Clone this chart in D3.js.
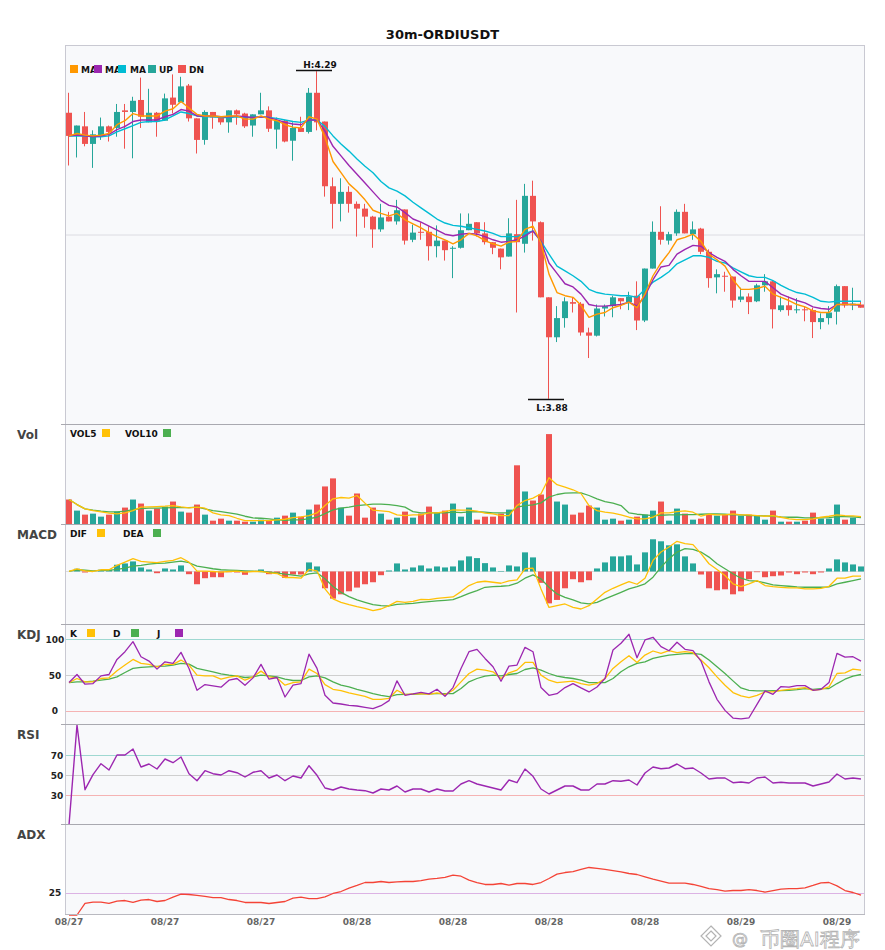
<!DOCTYPE html>
<html>
<head>
<meta charset="utf-8">
<script src="https://cdn.jsdelivr.net/npm/d3@7/dist/d3.min.js"></script>
<style>
  body { margin: 0; background: #fff; }
  svg text { font-family: "DejaVu Sans", sans-serif; }
</style>
</head>
<body>
<script>
// ---- data (30m candles, 100 bars) ----
var openPrices = [
  4.238,4.209,4.221,4.199,4.208,4.221,4.219,4.241,4.239,4.254,
  4.226,4.238,4.228,4.257,4.251,4.272,4.231,4.204,4.239,4.232,
  4.226,4.241,4.237,4.222,4.236,4.241,4.217,4.228,4.203,4.219,
  4.214,4.263,4.227,4.146,4.124,4.139,4.124,4.118,4.108,4.092,
  4.108,4.102,4.117,4.079,4.089,4.089,4.071,4.078,4.068,4.069,
  4.091,4.101,4.087,4.076,4.068,4.058,4.086,4.074,4.134,4.101,
  4.007,3.957,3.981,4.001,3.999,3.963,3.959,3.993,3.996,4.006,
  4.001,4.009,3.978,4.043,4.089,4.078,4.087,4.114,4.086,4.093,
  4.064,4.032,4.034,4.033,4.004,4.008,4.002,4.022,4.027,3.991,
  3.997,3.991,3.992,3.991,3.976,3.981,3.989,4.021,3.997,3.998
];
var closePrices = [
  4.209,4.222,4.199,4.211,4.221,4.214,4.239,4.239,4.253,4.233,
  4.238,4.227,4.256,4.248,4.271,4.231,4.204,4.239,4.232,4.226,
  4.241,4.236,4.221,4.236,4.241,4.218,4.229,4.202,4.219,4.214,
  4.263,4.226,4.146,4.124,4.139,4.124,4.118,4.108,4.092,4.107,
  4.102,4.116,4.078,4.088,4.088,4.071,4.078,4.066,4.069,4.091,
  4.099,4.087,4.076,4.069,4.057,4.087,4.076,4.134,4.102,4.007,
  3.957,3.981,4.002,3.999,3.963,3.959,3.993,3.996,4.007,4.002,
  4.008,3.978,4.043,4.089,4.079,4.086,4.114,4.087,4.092,4.064,
  4.031,4.036,4.033,4.003,4.008,4.001,4.022,4.027,3.992,3.997,
  3.991,3.992,3.991,3.976,3.981,3.988,4.021,3.997,3.999,3.994
];
var highPrices = [
  4.263,4.222,4.239,4.216,4.232,4.222,4.249,4.249,4.258,4.282,
  4.268,4.239,4.262,4.286,4.283,4.274,4.231,4.241,4.239,4.232,
  4.241,4.242,4.238,4.236,4.263,4.246,4.232,4.229,4.226,4.233,
  4.269,4.290,4.227,4.157,4.156,4.146,4.127,4.124,4.109,4.124,
  4.114,4.129,4.117,4.098,4.101,4.096,4.097,4.078,4.071,4.112,
  4.112,4.101,4.101,4.076,4.068,4.106,4.129,4.149,4.153,4.102,
  4.007,3.996,4.007,4.007,4.001,3.969,3.998,3.998,4.009,4.006,
  4.014,4.027,4.043,4.102,4.121,4.089,4.117,4.124,4.102,4.094,
  4.067,4.042,4.039,4.033,4.019,4.012,4.024,4.036,4.028,4.008,
  4.008,4.006,3.996,3.994,3.987,3.996,4.023,4.021,4.019,4.002
];
var lowPrices = [
  4.172,4.182,4.196,4.169,4.204,4.202,4.208,4.193,4.181,4.219,
  4.226,4.208,4.228,4.237,4.251,4.227,4.187,4.198,4.218,4.223,
  4.213,4.223,4.219,4.208,4.236,4.214,4.193,4.201,4.178,4.214,
  4.212,4.216,4.133,4.093,4.102,4.113,4.083,4.094,4.069,4.089,
  4.102,4.098,4.073,4.076,4.079,4.053,4.057,4.053,4.031,4.068,
  4.091,4.083,4.073,4.061,4.042,4.058,3.988,4.063,4.078,4.007,
  3.880,3.951,3.969,3.988,3.959,3.931,3.958,3.983,3.982,3.992,
  3.991,3.966,3.976,4.043,4.073,4.073,4.084,4.087,4.079,4.061,
  4.019,4.012,4.014,3.994,4.001,3.986,4.001,4.014,3.968,3.989,
  3.984,3.987,3.977,3.956,3.967,3.973,3.973,3.994,3.991,3.994
];
var ma5 = [
  4.209,4.212,4.210,4.209,4.210,4.212,4.223,4.228,4.237,4.234,
  4.234,4.234,4.240,4.243,4.252,4.244,4.236,4.234,4.234,4.233,
  4.234,4.234,4.230,4.230,4.234,4.230,4.228,4.223,4.220,4.219,
  4.233,4.230,4.207,4.177,4.163,4.149,4.140,4.129,4.116,4.112,
  4.109,4.112,4.104,4.099,4.094,4.088,4.083,4.079,4.074,4.079,
  4.087,4.084,4.078,4.074,4.071,4.076,4.077,4.092,4.096,4.075,
  4.036,4.013,4.009,4.007,3.997,3.982,3.986,3.988,3.994,3.997,
  4.001,3.994,4.011,4.034,4.050,4.063,4.079,4.082,4.086,4.077,
  4.061,4.054,4.046,4.029,4.017,4.017,4.018,4.021,4.011,4.007,
  4.003,3.998,3.995,3.990,3.988,3.988,3.998,3.998,3.998,3.998
];
var ma10 = [
  4.209,4.210,4.209,4.208,4.209,4.211,4.217,4.221,4.227,4.229,
  4.229,4.229,4.233,4.236,4.242,4.240,4.234,4.234,4.234,4.233,
  4.233,4.234,4.233,4.232,4.233,4.232,4.229,4.226,4.224,4.223,
  4.229,4.229,4.215,4.196,4.184,4.172,4.161,4.150,4.139,4.128,
  4.122,4.120,4.113,4.105,4.101,4.096,4.091,4.086,4.084,4.086,
  4.087,4.086,4.083,4.079,4.076,4.077,4.079,4.084,4.090,4.077,
  4.050,4.037,4.024,4.020,4.011,3.998,3.996,3.996,3.997,3.998,
  4.001,3.996,4.009,4.029,4.045,4.047,4.061,4.067,4.072,4.071,
  4.063,4.057,4.052,4.042,4.034,4.027,4.027,4.027,4.019,4.011,
  4.007,4.003,4.000,3.995,3.993,3.992,3.998,3.998,3.998,3.997
];
var ma20 = [
  4.209,4.209,4.209,4.208,4.208,4.209,4.214,4.218,4.222,4.226,
  4.227,4.227,4.229,4.234,4.239,4.237,4.234,4.233,4.233,4.232,
  4.232,4.233,4.232,4.232,4.233,4.232,4.231,4.229,4.227,4.226,
  4.229,4.229,4.221,4.209,4.199,4.190,4.180,4.171,4.163,4.152,
  4.144,4.140,4.134,4.126,4.119,4.112,4.105,4.100,4.097,4.096,
  4.094,4.092,4.090,4.087,4.083,4.083,4.083,4.087,4.090,4.077,
  4.061,4.046,4.040,4.034,4.027,4.017,4.013,4.011,4.010,4.009,
  4.009,4.007,4.017,4.026,4.032,4.039,4.049,4.054,4.059,4.059,
  4.057,4.052,4.050,4.044,4.039,4.034,4.032,4.032,4.028,4.022,
  4.017,4.013,4.011,4.007,4.002,4.001,4.002,4.002,4.002,4.002
];
var volumes = [
  25.3,14.3,10.3,11.3,8.3,10.3,13.3,17.3,25.3,21.3,
  14.3,16.3,18.3,23.3,13.3,12.3,20.3,10.3,4.3,6.3,
  4.3,4.3,3.3,3.3,5.3,4.3,7.3,9.3,12.3,8.3,
  15.3,20.3,38.3,46.3,17.3,9.3,31.3,7.3,17.3,11.3,
  5.3,7.3,13.3,7.3,11.3,18.3,12.3,14.3,21.3,8.3,
  17.3,5.3,8.3,8.3,11.3,15.3,59.3,33.3,24.3,30.3,
  90.3,23.3,20.3,10.3,12.3,19.3,17.3,5.3,6.3,4.3,
  5.3,8.3,10.3,14.3,23.3,4.3,16.3,11.3,5.3,6.3,
  10.3,9.3,10.3,14.3,9.3,10.3,9.3,5.3,14.3,3.3,
  3.3,3.3,4.3,12.3,6.3,6.3,20.3,5.3,7.3,0.7
];
var vol5 = [
  25.3,20.3,16,14.3,13,11.7,11,12,14.3,17.7,
  18,18.3,18.7,19.3,18,17,17.7,16.7,12,10,
  9.3,6.7,4.3,4.3,4.3,4.3,5,5.7,7.3,8,
  9.3,12,19.3,26,27.3,26.7,29.3,21.7,14.7,14,
  13.3,10,9.3,10,10,12,12,13.3,15,14.7,
  14.7,13.7,11.7,11,9.3,9.3,19.3,24.3,26.7,31,
  47,40,37.7,35,31.3,19.3,14.3,12.7,11.7,10,
  7.7,6,6,7.7,12,12,13.3,14,12.7,8.7,
  10.7,10,10,11,10,10,9.3,8.7,9.3,7.7,
  6,5.3,5.3,6,7.7,8.7,10,9.3,9,8.3
];
var vol10 = [
  25.3,20.3,16,14.7,13.7,13,13,13.7,15.3,16.3,
  16.7,16.7,17,17.3,17.3,17.3,17.7,16,14.3,13.3,
  12,10.7,8.7,7,6.7,6,5,4.7,5,5,
  6.3,7.7,11.3,15,16.7,17.7,19.3,20,20.7,20.7,
  20.3,19.3,17.7,13.3,12,12,12,12,12.7,12.3,
  13,13.3,12.7,12,12,12,17.7,19.3,20,22,
  27.7,30.3,31.7,32,32,29.3,26,23.3,21.7,19.3,
  12,10.7,10,9.3,9.7,10,10,10.3,10.3,10.7,
  11,11,10.7,10,10,9.3,9.3,9,8.7,8,
  7.7,7.7,7,7,7,7.3,8.3,8.3,8,7.3
];
// MACD values in units of 0.001
var difValues = [
  0,2.7,0.7,0,1.7,1.7,6,9.3,12.7,10,
  9.3,8.7,10,11,13.7,9.3,0.3,0.3,0,-0.7,
  0,0.3,-0.7,0,0,-1.3,-2,-6,-6,-6.7,
  2,0.7,-17.3,-27.3,-30.7,-33,-35,-36.7,-39,-37.3,
  -34,-29.7,-30.7,-29.7,-27.7,-28,-26.7,-26,-25.3,-20,
  -14,-10.7,-9.7,-10.7,-11.7,-9.3,-8.3,2.7,3.3,-17.3,
  -35.7,-34,-32.3,-35.7,-37.3,-34,-27.3,-20.7,-16.7,-13.3,
  -10,-12.7,-6.7,11,19.3,24.3,30,27.7,26.7,17.7,
  7.7,2,-4,-12.3,-15,-12.3,-9,-14,-15,-15.7,
  -16.3,-16.3,-17.3,-17.3,-16.7,-14.7,-6.7,-6.7,-4.7,-4.7
];
var deaValues = [
  0,1.7,1.3,0.7,1,1,2,3.3,5.3,6,
  7.3,8,8.3,9.3,10.3,8.7,5.3,4,2.7,1.7,
  1.3,1,0.7,0.3,0,-0.7,-1.3,-2.7,-3.7,-4.7,
  -2.3,-1.3,-7.3,-15,-20.7,-25,-28.3,-30.7,-33,-34,
  -34.3,-32.7,-32.3,-31.7,-30.7,-30,-29.3,-28.7,-28,-25,
  -21.7,-19,-15.7,-15,-14.7,-14,-11.7,-6.7,-3.3,-7.3,
  -15.7,-22.3,-25.7,-28.3,-31.3,-32.3,-30.7,-27.3,-24,-20.7,
  -17.3,-15,-12.3,-5.7,4.3,12.7,19.3,22.7,22,19.3,
  14.3,7.7,2.7,-2.3,-6.7,-9,-9.7,-11.3,-13.3,-14,
  -14.7,-15.3,-15.7,-15.7,-15.7,-15.3,-12.3,-10.7,-9,-7.3
];
var macdHist = [
  0,2.7,-1,0,1.7,1.7,6.7,8,10,4,
  2,-1.7,3,2,6,-2.7,-12.7,-6.7,-5.7,-5.7,
  -0.7,-1,-3.3,-0.3,2,-2.7,-2,-6.3,-3,-3,
  9,5,-16.7,-27,-22.7,-19.7,-16,-12.7,-10.7,-3.7,
  1,8,2,4,6,3,5,4,5,11,
  15,13.3,8.3,4,0.5,6,5,19,14,-11.3,
  -31.7,-28.3,-16.7,-7.7,-10.7,-8.7,3,9,15,15,
  16,7,19,32,30,26,27,15,8,-3,
  -16.7,-18.7,-17.7,-22.7,-19.7,-7.7,-0.7,-5.7,-4.7,-4,
  -1,-2.7,-1,-2.7,-1,3,12,9,7,5
];
var kValues = [
  39.4,45.1,40.4,40.4,45.1,46.0,55.9,63.9,71.8,66.2,
  64.8,61.5,64.8,64.8,70.9,63.9,49.8,48.8,48.8,44.1,
  46.9,48.8,42.7,47.4,55.4,47.4,46.0,35.7,39.4,40.4,
  58.2,52.1,36.6,30.0,28.2,24.9,22.5,20.2,16.0,16.0,
  17.4,28.6,22.5,23.5,23.9,23.0,24.9,22.5,28.6,40.4,
  52.1,58.2,56.8,54.5,45.1,53.1,56.8,67.6,67.6,49.8,
  42.7,39.4,40.4,41.3,38.0,35.7,38.0,45.1,59.2,68.5,
  77.0,67.6,77.9,83.6,80.3,84.0,81.2,82.6,81.2,70.9,
  60.1,47.4,35.7,25.4,20.7,18.3,21.6,26.3,26.3,28.6,
  30.0,31.0,32.4,28.6,30.0,33.3,52.1,53.1,58.2,56.8
];
var dValues = [
  39.4,40.4,40.4,41.3,42.7,44.1,47.4,53.5,59.2,60.6,
  61.5,62.0,62.4,63.9,66.2,65.3,59.2,56.8,54.5,51.6,
  49.8,48.4,46.5,47.4,49.8,48.8,47.4,44.1,42.3,42.3,
  47.4,48.8,46.0,40.4,35.7,33.3,30.0,27.2,23.9,21.6,
  19.7,22.5,23.0,23.0,23.5,23.5,23.9,23.9,23.9,31.0,
  40.4,45.1,48.4,49.8,48.8,50.7,52.1,57.7,60.1,56.8,
  52.1,48.4,46.5,45.1,42.7,39.4,39.4,39.4,45.1,54.5,
  61.5,66.2,68.5,73.2,75.6,77.9,78.9,79.8,80.3,78.9,
  70.9,61.5,52.1,41.8,31.9,28.6,27.7,27.7,28.2,28.2,
  28.6,29.6,31.0,30.0,31.0,31.0,38.0,44.1,48.4,50.7
];
var jValues = [
  39.4,50.7,37.1,38.0,48.8,50.7,71.8,82.6,96.7,75.6,
  69.5,58.2,68.5,66.2,81.7,59.2,28.6,36.6,34.7,32.9,
  42.7,45.1,35.7,46.0,64.8,44.1,46.5,19.2,35.7,38.0,
  79.3,59.2,21.6,10.8,9.4,7.5,6.6,4.7,2.8,7.0,
  14.1,41.8,21.6,23.5,25.8,23.5,30.0,20.2,32.4,59.2,
  82.6,85.9,73.2,61.5,41.3,62.4,63.9,88.7,82.6,32.4,
  21.6,23.9,32.4,38.0,31.9,26.3,33.3,45.1,85.0,94.4,
  107.0,74.2,99.1,102.8,89.7,84.0,95.8,85.9,84.0,69.5,
  40.4,16.0,0.5,-10.3,-11.3,-9.9,8.9,27.7,23.0,33.8,
  32.9,35.2,35.2,28.6,30.0,39.4,80.3,75.1,75.6,69.5
];
var rsiValues = [
  0,100,35.3,50.3,61.3,55,70,70,76,58,
  61,56,66,62.3,68,51.3,44.3,54.3,51.3,50,
  54.3,52.3,48,52.7,54.3,47,50,44.3,49,47,
  59.3,49.7,37,35,38,36,35,34.3,32,36,
  35,39,33,36,36,33,36,34,34,41,
  44.3,41,39,37,35,45,42.3,56,48.7,36,
  31,35,39,39,35,35,41,41,44.3,43.7,
  45,40,52,58,56.3,57,61,56.3,57,52,
  46,47,47,42.3,43,42,47,48,42,42.7,
  42,42,42,39,41,43,51,46,47,46
];
var adxValues = [
  0,0,12.8,14.3,14.3,12.8,15.4,16.1,13.9,16.5,
  17.2,15,16.1,19.8,23.1,22.8,21.7,20.6,19.4,19.4,
  17.2,16.1,13.9,13.9,13.9,12.8,13.9,15,18.7,19.8,
  18.3,18.3,20.2,23.9,26.1,29.8,32.8,36.1,36.1,37.2,
  36.1,36.9,37.2,37.2,38.3,39.8,40.6,41.7,44.3,43.1,
  38.7,36.1,33.9,33.9,35,33.1,35,35,33.9,36.1,
  40.6,45.4,47.2,48.3,50.6,52.8,51.7,50.6,49.4,48,
  46.1,45,42.4,39.8,37.6,35.4,35.4,35.4,33.9,31.7,
  29.4,28.3,26.5,27.2,27.2,28.3,27.2,25.4,27.2,28.7,
  29.4,29.4,30.2,32.8,35.7,36.1,32.4,27.2,25,22
];
// date labels, one every 12 bars
var tickLabels = ['08/27','08/27','08/27','08/28','08/28','08/28','08/28','08/29','08/29'];
var tickStep = 12;
var kdjLevels = [100, 50, 0];
var rsiLevels = [70, 50, 30];
var adxLevels = [25];

// ---- layout ----
var svgWidth = 885, svgHeight = 950;
var plotLeft = 65, plotRight = 865;
var panels = {
  main: { top: 45, bottom: 425 },
  vol:  { top: 425, bottom: 525, label: 'Vol' },
  macd: { top: 525, bottom: 625, label: 'MACD' },
  kdj:  { top: 625, bottom: 725, label: 'KDJ' },
  rsi:  { top: 725, bottom: 825, label: 'RSI' },
  adx:  { top: 825, bottom: 915, label: 'ADX' }
};
var UP = '#26a69a', DN = '#ef5350';
var n = closePrices.length;
var bars = d3.range(n).map(function (i) {
  return { i: i, o: openPrices[i], c: closePrices[i], h: highPrices[i], l: lowPrices[i], v: volumes[i] };
});

var svg = d3.select('body').append('svg')
  .attr('width', svgWidth)
  .attr('height', svgHeight);

// plot background
svg.append('rect')
  .attr('x', plotLeft).attr('y', panels.main.top)
  .attr('width', plotRight - plotLeft).attr('height', panels.adx.bottom - panels.main.top)
  .attr('fill', '#f8f9fb');

// ---- scales ----
var x = d3.scaleBand().domain(d3.range(n)).range([plotLeft, plotRight])
  .paddingInner(0.25).paddingOuter(0.125);
var cx = function (i) { return x(i) + x.bandwidth() / 2; };

var hi = d3.max(highPrices), lo = d3.min(lowPrices);
var pad = (hi - lo) * 0.08;
var yPrice = d3.scaleLinear().domain([lo - pad, hi + pad]).range([panels.main.bottom, panels.main.top]);
var yVol = d3.scaleLinear().domain([0, d3.max(volumes) * 1.1]).range([panels.vol.bottom, panels.vol.top]);
var mLo = d3.min(difValues.concat(deaValues, macdHist)), mHi = d3.max(difValues.concat(deaValues, macdHist));
var mPad = (mHi - mLo) * 0.2;
var yMacd = d3.scaleLinear().domain([mLo - mPad, mHi + mPad]).range([panels.macd.bottom, panels.macd.top]);
var yKdj = d3.scaleLinear().domain([-20, 120]).range([panels.kdj.bottom, panels.kdj.top]);
var yRsi = d3.scaleLinear().domain([0, 100]).range([panels.rsi.bottom, panels.rsi.top]);
var yAdx = d3.scaleLinear().domain([0, 100]).range([panels.adx.bottom, panels.adx.top]);

// ---- grid lines ----
function hline(y, color) {
  svg.append('line')
    .attr('x1', plotLeft).attr('x2', plotRight)
    .attr('y1', y).attr('y2', y)
    .attr('stroke', color).attr('stroke-width', 1);
}
hline((panels.main.top + panels.main.bottom) / 2, '#dcdce2');
hline(Math.round(yMacd(0)) + 0.5, '#dddddd');
var levelColor = { 100: '#9fd8d1', 70: '#9fd8d1', 50: '#cfcfcf', 0: '#f5b3b3', 30: '#f5b3b3', 25: '#dcb3e4' };
kdjLevels.forEach(function (v) { hline(Math.round(yKdj(v)) + 0.5, levelColor[v]); });
rsiLevels.forEach(function (v) { hline(Math.round(yRsi(v)) + 0.5, levelColor[v]); });
adxLevels.forEach(function (v) { hline(Math.round(yAdx(v)) + 0.5, levelColor[v]); });

// ---- candles ----
var candle = svg.append('g').selectAll('g').data(bars).enter().append('g')
  .attr('fill', function (d) { return d.c >= d.o ? UP : DN; })
  .attr('stroke', function (d) { return d.c >= d.o ? UP : DN; });
candle.append('line')
  .attr('x1', function (d) { return cx(d.i) - 0.5; })
  .attr('x2', function (d) { return cx(d.i) - 0.5; })
  .attr('y1', function (d) { return yPrice(d.h); })
  .attr('y2', function (d) { return yPrice(d.l); })
  .attr('stroke-width', 1);
candle.append('rect')
  .attr('stroke', 'none')
  .attr('x', function (d) { return x(d.i); })
  .attr('width', x.bandwidth())
  .attr('y', function (d) { return yPrice(Math.max(d.o, d.c)); })
  .attr('height', function (d) { return Math.max(1, Math.abs(yPrice(d.o) - yPrice(d.c))); });

function drawLine(values, yScale, color, w) {
  svg.append('path')
    .datum(values)
    .attr('fill', 'none')
    .attr('stroke', color)
    .attr('stroke-width', w || 1.3)
    .attr('stroke-linejoin', 'round')
    .attr('d', d3.line().x(function (d, i) { return cx(i); }).y(function (d) { return yScale(d); }));
}
drawLine(ma20, yPrice, '#00bcd4', 1.4);
drawLine(ma10, yPrice, '#9c27b0', 1.4);
drawLine(ma5, yPrice, '#ff9800', 1.4);

// high / low markers
var iHi = highPrices.indexOf(hi), iLo = lowPrices.indexOf(lo);
var yH = Math.round(yPrice(hi)) - 0.5, yL = Math.round(yPrice(lo)) + 0.5;
svg.append('line').attr('x1', cx(iHi) - 21).attr('x2', cx(iHi) + 15).attr('y1', yH).attr('y2', yH)
  .attr('stroke', '#111').attr('stroke-width', 1.5);
svg.append('text').attr('x', cx(iHi) + 3).attr('y', yH - 3).attr('text-anchor', 'middle')
  .attr('font-size', 9).attr('font-weight', 'bold').attr('fill', '#111').text('H:' + d3.format('.2f')(hi));
svg.append('line').attr('x1', cx(iLo) - 21).attr('x2', cx(iLo) + 15).attr('y1', yL).attr('y2', yL)
  .attr('stroke', '#111').attr('stroke-width', 1.5);
svg.append('text').attr('x', cx(iLo) + 3).attr('y', yL + 11).attr('text-anchor', 'middle')
  .attr('font-size', 9).attr('font-weight', 'bold').attr('fill', '#111').text('L:' + d3.format('.2f')(lo));

// ---- volume ----
svg.append('g').selectAll('rect').data(bars).enter().append('rect')
  .attr('x', function (d) { return x(d.i); })
  .attr('width', x.bandwidth())
  .attr('y', function (d) { return yVol(d.v); })
  .attr('height', function (d) { return yVol(0) - yVol(d.v); })
  .attr('fill', function (d) { return d.c >= d.o ? UP : DN; });
drawLine(vol10, yVol, '#4caf50', 1.3);
drawLine(vol5, yVol, '#ffc107', 1.3);

// ---- MACD ----
svg.append('g').selectAll('rect').data(macdHist).enter().append('rect')
  .attr('x', function (d, i) { return x(i); })
  .attr('width', x.bandwidth())
  .attr('y', function (d) { return yMacd(Math.max(0, d)); })
  .attr('height', function (d) { return Math.abs(yMacd(d) - yMacd(0)); })
  .attr('fill', function (d) { return d >= 0 ? UP : DN; });
drawLine(deaValues, yMacd, '#4caf50', 1.3);
drawLine(difValues, yMacd, '#ffc107', 1.3);

// ---- KDJ / RSI / ADX ----
drawLine(dValues, yKdj, '#4caf50', 1.3);
drawLine(kValues, yKdj, '#ffc107', 1.3);
drawLine(jValues, yKdj, '#9c27b0', 1.3);
drawLine(rsiValues, yRsi, '#9c27b0', 1.4);
drawLine(adxValues, yAdx, '#f44336', 1.3);

// ---- frame and separators ----
svg.append('rect')
  .attr('x', plotLeft + 0.5).attr('y', panels.main.top + 0.5)
  .attr('width', plotRight - plotLeft - 1).attr('height', panels.adx.bottom - panels.main.top - 1)
  .attr('fill', 'none').attr('stroke', '#c9c9d2');
['vol', 'macd', 'kdj', 'rsi', 'adx'].forEach(function (k) {
  var y = panels[k].top - 0.5;
  svg.append('line').attr('x1', plotLeft - 4).attr('x2', plotRight).attr('y1', y).attr('y2', y)
    .attr('stroke', '#a9a9b0').attr('stroke-width', 1);
});
svg.append('line').attr('x1', plotLeft).attr('x2', plotRight)
  .attr('y1', panels.adx.bottom - 0.5).attr('y2', panels.adx.bottom - 0.5)
  .attr('stroke', '#b9b9c0');

// ---- y level labels ----
function levelLabels(levels, yScale, xPos) {
  svg.append('g').selectAll('text').data(levels).enter().append('text')
    .attr('x', xPos).attr('y', function (d) { return yScale(d) + 3.5; })
    .attr('text-anchor', 'middle')
    .attr('font-size', 9).attr('font-weight', 'bold').attr('fill', '#222')
    .text(function (d) { return d; });
}
levelLabels(kdjLevels, yKdj, 55);
levelLabels(rsiLevels, yRsi, 57);
levelLabels(adxLevels, yAdx, 55);

// ---- x axis labels ----
svg.append('g').selectAll('text').data(tickLabels).enter().append('text')
  .attr('x', function (d, k) { return cx(k * tickStep); })
  .attr('y', 925)
  .attr('text-anchor', 'middle')
  .attr('font-size', 9).attr('font-weight', 'bold').attr('fill', '#666')
  .text(function (d) { return d; });

// ---- titles and panel labels ----
svg.append('text').attr('x', svgWidth / 2).attr('y', 39).attr('text-anchor', 'middle')
  .attr('font-size', 13).attr('font-weight', 'bold').attr('fill', '#111').text('30m-ORDIUSDT');
['vol', 'macd', 'kdj', 'rsi', 'adx'].forEach(function (k) {
  svg.append('text').attr('x', 17).attr('y', panels[k].top + 14)
    .attr('font-size', 12).attr('font-weight', 'bold').attr('fill', '#444')
    .text(panels[k].label);
});

// ---- legends ----
function legend(items, y) {
  var g = svg.append('g');
  items.forEach(function (it) {
    g.append('text').attr('x', it.tx).attr('y', y + 8)
      .attr('font-size', 9).attr('font-weight', 'bold').attr('fill', '#111').text(it.label);
  });
  items.forEach(function (it) {
    g.append('rect').attr('x', it.sx).attr('y', y).attr('width', 8).attr('height', 8).attr('fill', it.color);
  });
}
legend([
  { label: 'MA', color: '#ff9800', sx: 70, tx: 81 },
  { label: 'MA', color: '#9c27b0', sx: 94, tx: 105 },
  { label: 'MA', color: '#00bcd4', sx: 118, tx: 130 },
  { label: 'UP', color: UP, sx: 148, tx: 159 },
  { label: 'DN', color: DN, sx: 178, tx: 189 }
], 65);
legend([
  { label: 'VOL5', color: '#ffc107', sx: 102, tx: 70 },
  { label: 'VOL10', color: '#4caf50', sx: 163, tx: 125 }
], 429);
legend([
  { label: 'DIF', color: '#ffc107', sx: 97, tx: 70 },
  { label: 'DEA', color: '#4caf50', sx: 153, tx: 123 }
], 529);
legend([
  { label: 'K', color: '#ffc107', sx: 87, tx: 70 },
  { label: 'D', color: '#4caf50', sx: 131, tx: 113 },
  { label: 'J', color: '#9c27b0', sx: 175, tx: 157 }
], 629);

// ---- watermark (kept just under the date labels) ----
var wm = svg.append('g').attr('opacity', 0.75);
wm.append('path')
  .attr('d', 'M711,926 L721,936 L711,946 L701,936 Z M711,931 L716,936 L711,941 L706,936 Z')
  .attr('fill', 'none').attr('stroke', '#9a9a9a').attr('stroke-width', 1.2);
wm.append('text').attr('x', 732).attr('y', 944).attr('font-size', 16)
  .attr('fill', '#fff').attr('stroke', '#9a9a9a').attr('stroke-width', 0.8).text('@');
wm.append('text').attr('x', 760).attr('y', 946).attr('font-size', 20)
  .attr('font-family', '"Noto Sans CJK SC", sans-serif')
  .attr('fill', '#fff').attr('stroke', '#9a9a9a').attr('stroke-width', 0.8).text('币圈AI程序');
</script>
</body>
</html>
